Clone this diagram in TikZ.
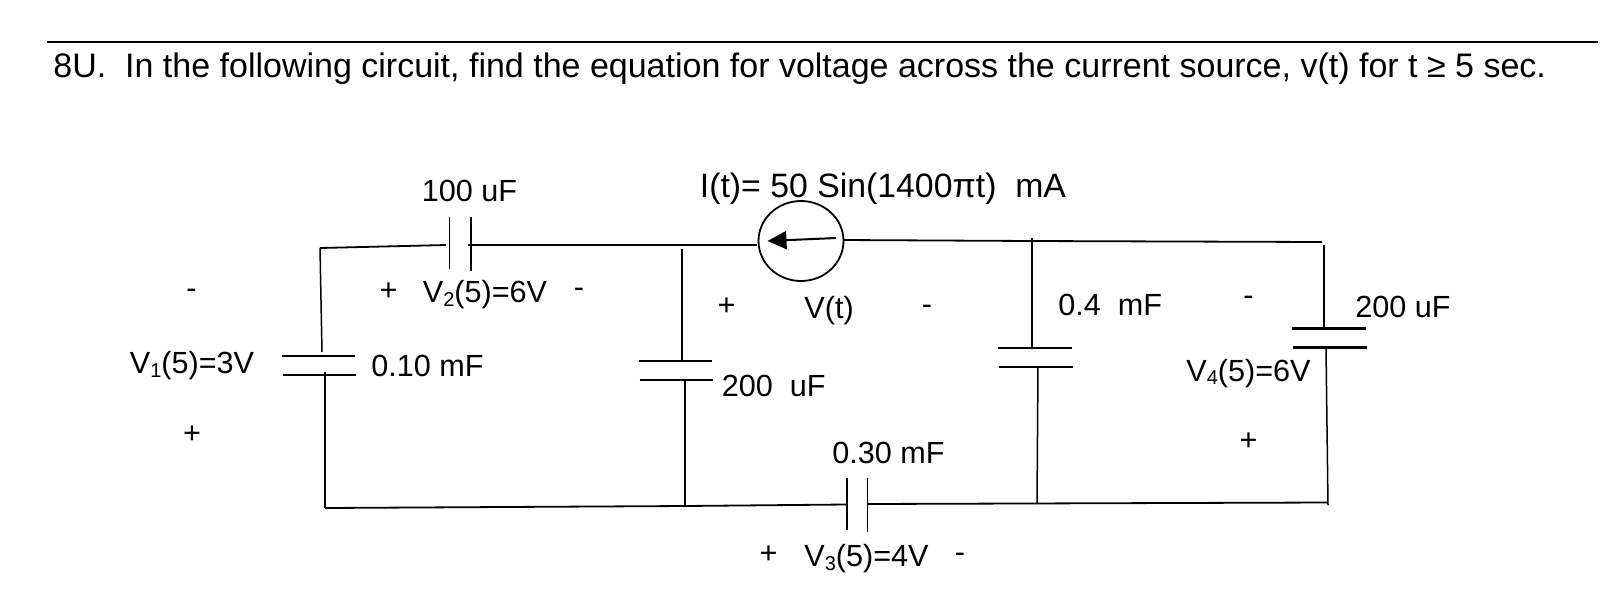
\documentclass[tikz,border=0pt]{standalone}
\usepackage{fontspec}
\setmainfont{Liberation Sans}
\usetikzlibrary{shapes.geometric,arrows.meta}
\tikzset{
	lbl/.style={inner sep=0pt,anchor=base west,font=\fontsize{15.3}{17}\selectfont},
	big/.style={lbl,font=\fontsize{16.9}{19}\selectfont},
	sgn/.style={inner sep=0pt,font=\fontsize{15.3}{17}\selectfont},
	wire/.style={line width=0.9pt},
	plate/.style={line width=1.1pt},
	lead/.style={line width=0.75pt}
}
\newcommand{\sub}[1]{\raisebox{-0.12em}{\fontsize{10}{11}\selectfont #1}}
\begin{document}
\begin{tikzpicture}[x=0.5pt,y=-0.5pt]
	\useasboundingbox (0,0) rectangle (1624,596);
	% heading
	\coordinate (ruleL) at (47,42);\coordinate (ruleR) at (1598,42);
	\draw[line width=1.2pt] (ruleL)--(ruleR);
	\node[big,font=\fontsize{17}{19}\selectfont] (title) at (53,77) {8U.\ \ In the following circuit, find the equation for voltage across the current source, v(t) for t ≥ 5 sec.};
	% current source
	\node[ellipse,draw,line width=0.9pt,minimum width=42.5pt,minimum height=40pt,inner sep=0pt] (src) at (801,241) {};
	\coordinate (srcT) at (836,238);\coordinate (srcH) at (767.5,241);
	\draw[line width=1pt,-{Triangle[length=9.5pt,width=9pt]}] (srcT)--(srcH);
	% top wire
	\coordinate (tl) at (320,248);\coordinate (c2L) at (446,245);\coordinate (c2R) at (468,245);
	\coordinate (m) at (757,245);\coordinate (tr) at (1322,242);\coordinate (n4) at (1032,241);\coordinate (sR) at (843,240);
	\draw[wire] (tl)--(c2L);\draw[wire] (c2R)--(m);\draw[wire] (sR)--(n4)--(tr);
	% 100 uF
	\coordinate (p2a) at (449.5,217);\coordinate (p2b) at (449.5,269);\coordinate (p2c) at (471,217);\coordinate (p2d) at (471,271);
	\draw[lead] (p2a)--(p2b);\draw[lead] (p2c)--(p2d);
	% 0.10 mF
	\coordinate (l1) at (322,352);\coordinate (p1a) at (282,356);\coordinate (p1b) at (355,356);\coordinate (p1c) at (283,375);\coordinate (p1d) at (356,375);
	\coordinate (l2) at (325,372);\coordinate (bl) at (325,508);
	\draw[lead] (tl)--(l1);\draw[plate] (p1a)--(p1b);\draw[plate] (p1c)--(p1d);\draw[wire] (l2)--(bl);
	% 200 uF, middle
	\coordinate (m1) at (682,249);\coordinate (m2) at (682,361);\coordinate (p5a) at (638.5,361);\coordinate (p5b) at (712,361);\coordinate (p5c) at (639.5,380);\coordinate (p5d) at (713,380);
	\coordinate (m3) at (685,379);\coordinate (bm) at (685,506);
	\draw[lead] (m1)--(m2);\draw[plate] (p5a)--(p5b);\draw[plate] (p5c)--(p5d);\draw[lead] (m3)--(bm);
	% 0.4 mF
	\coordinate (n1) at (1032,238);\coordinate (n2) at (1032,348);\coordinate (p6a) at (997.5,348);\coordinate (p6b) at (1071.5,348);\coordinate (p6c) at (998.5,367);\coordinate (p6d) at (1072.5,367);
	\coordinate (n3) at (1038,367);\coordinate (bn) at (1037,504);
	\draw[lead] (n1)--(n2);\draw[plate] (p6a)--(p6b);\draw[plate] (p6c)--(p6d);\draw[lead] (n3)--(bn);
	% 200 uF, right
	\coordinate (r1) at (1324,245);\coordinate (r2) at (1324,328.5);\coordinate (p4a) at (1292,328.5);\coordinate (p4b) at (1365.5,328.5);\coordinate (p4c) at (1293,347.5);\coordinate (p4d) at (1366.5,347.5);
	\coordinate (r3) at (1326,347.5);\coordinate (br) at (1328,505);\coordinate (brw) at (1328,502.5);
	\draw[lead] (r1)--(r2);\draw[plate] (p4a)--(p4b);\draw[plate] (p4c)--(p4d);\draw[lead] (r3)--(br);
	% bottom wire, 0.30 mF
	\coordinate (c3L) at (846,504.5);\coordinate (c3R) at (867.5,504);
	\coordinate (p3a) at (847,478);\coordinate (p3b) at (847,530);\coordinate (p3c) at (867.5,478);\coordinate (p3d) at (867.5,532);
	\draw[wire] (bl)--(bm)--(c3L);\draw[wire] (c3R)--(brw);
	\draw[lead] (p3a)--(p3b);\draw[lead] (p3c)--(p3d);
	% labels
	\node[big] (iT) at (699.5,197) {I(t)= 50 Sin(1400πt)\ \ mA};
	\node[lbl] (c2N) at (421.5,201) {100 uF};
	\node[lbl] (v2N) at (422.5,302.5) {V\sub{2}(5)=6V};
	\node[sgn] (v2P) at (388.5,292) {+};\node[sgn] (v2M) at (579,293) {-};
	\node[sgn] (v1M) at (191.5,294) {-};\node[sgn] (v1P) at (192,434.5) {+};
	\node[lbl] (v1N) at (129.5,373.5) {V\sub{1}(5)=3V};
	\node[lbl] (c1N) at (371,376) {0.10 mF};
	\node[lbl] (c5N) at (721.5,396.5) {200\ \ uF};
	\node[sgn] (vP) at (726.5,307) {+};\node[lbl] (vN) at (804,318.5) {V(t)};\node[sgn] (vM) at (927,310) {-};
	\node[lbl] (c6N) at (1058,315.5) {0.4\ \ mF};
	\node[sgn] (v4M) at (1248.5,301) {-};\node[sgn] (v4P) at (1248.5,442) {+};
	\node[lbl] (c4N) at (1355,317) {200 uF};
	\node[lbl] (v4N) at (1186,381) {V\sub{4}(5)=6V};
	\node[lbl] (c3N) at (832,463) {0.30 mF};
	\node[sgn] (v3P) at (768.5,555) {+};\node[lbl] (v3N) at (804,566.5) {V\sub{3}(5)=4V};\node[sgn] (v3M) at (960,558) {-};
\end{tikzpicture}
\end{document}
